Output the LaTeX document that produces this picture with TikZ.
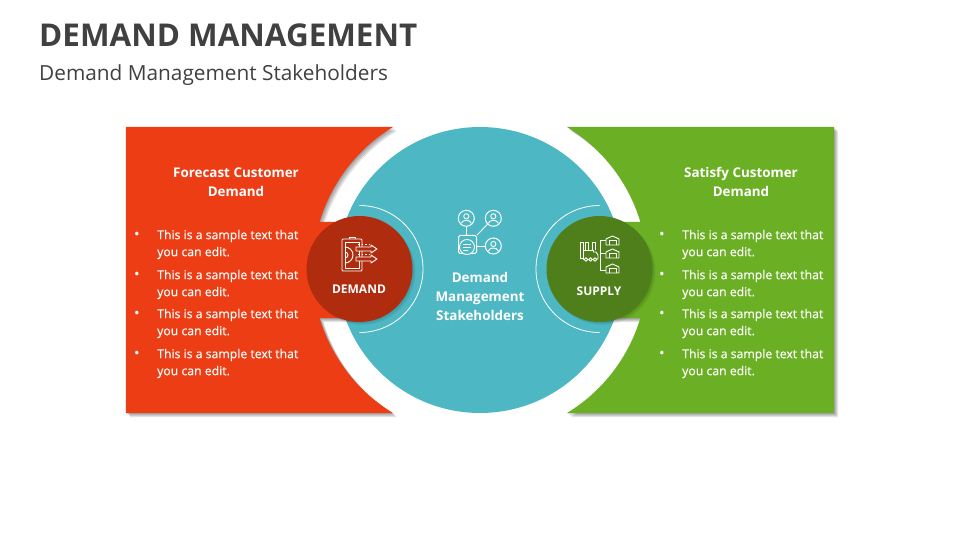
\documentclass[tikz,border=0pt]{standalone}
\usepackage{fontspec}
\setmainfont{Open Sans}
\definecolor{redpanel}{HTML}{EC3D14}
\definecolor{reddark}{HTML}{B02C0E}
\definecolor{tealhub}{HTML}{4DB8C3}
\definecolor{greenpanel}{HTML}{6BAF25}
\definecolor{greendark}{HTML}{4E7F1B}
\definecolor{titlegray}{HTML}{404040}
\newcommand{\panelpath}{(-354,143) -- (121.3:167.4) arc[start angle=121.3,end angle=163.3,radius=167.4] -- (-120,48) -- (-120,-48) -- (196.7:167.4) arc[start angle=196.7,end angle=238.7,radius=167.4] -- (-354,-143) -- cycle}
\newcommand{\fsize}[2]{\fontsize{#1}{#2}\selectfont}
\tikzset{
	badge/.style={circle,minimum size=106,inner sep=0,draw=none},
	headtext/.style={text=white,font=\fsize{13.4}{19}\bfseries,align=center},
	bodytext/.style={text=white,font=\fsize{12.25}{17}\addfontfeature{FakeBold=0.25},align=left,anchor=west,inner sep=0},
	dotmark/.style={text=white,font=\fsize{15}{17},inner sep=0},
	iconline/.style={white,line width=0.9,line join=round},
	person/.style={circle,draw=white,line width=1,minimum size=16,inner sep=0}
}
\begin{document}
\begin{tikzpicture}[x=1pt,y=1pt]
	\useasboundingbox (-480,-270) rectangle (480,270);
	\node[anchor=base west,inner sep=0,text=titlegray,font=\fsize{31.4}{36}\bfseries] (title) at (-441,223.5) {DEMAND MANAGEMENT};
	\node[anchor=base west,inner sep=0,text=titlegray,font=\fsize{20.8}{24}] (subtitle) at (-441,189) {Demand Management Stakeholders};
	% middle circle
	\node[circle,fill=tealhub,minimum size=286,inner sep=0] (hub) at (0,0) {};
	% shadows of the side panels, then the panels
	\foreach \s in {1,2,3,4} {
		\fill[black,opacity=0.10,xshift=\s,yshift=-\s] \panelpath;
		\fill[black,opacity=0.10,xshift=\s,yshift=-\s,xscale=-1] \panelpath;
	}
	\fill[redpanel] \panelpath;
	\fill[greenpanel,xscale=-1] \panelpath;
	% small circles
	\foreach \s in {1,2,3} {
		\fill[black,opacity=0.05] (-120.5+\s,1-\s) circle (53);
		\fill[black,opacity=0.05] (119.5+\s,1-\s) circle (53);
	}
	\node[badge,fill=reddark] (demand) at (-120.5,1) {};
	\node[badge,fill=greendark] (supply) at (119.5,1) {};
	\draw[white,line width=0.8] ([yshift=63.5]demand.center) arc[start angle=90,end angle=-90,radius=63.5];
	\draw[white,line width=0.8] ([yshift=63.5]supply.center) arc[start angle=90,end angle=270,radius=63.5];
	\node[text=white,font=\fsize{12}{14}\bfseries] (demandlabel) at (-121,-19.5) {DEMAND};
	\node[text=white,font=\fsize{12}{14}\bfseries] (supplylabel) at (119,-21.5) {SUPPLY};
	\node[headtext] (hublabel) at (0,-26) {Demand\\Management\\Stakeholders};
	\node[headtext] (lefthead) at (-244,87.5) {Forecast Customer\\Demand};
	\node[headtext] (righthead) at (261,88.5) {Satisfy Customer\\Demand};
	% bullets
	\foreach \y [count=\i] in {25.5,-14.5,-53.5,-93.5} {
		\node[bodytext] (leftitem\i) at (-323,\y) {This is a sample text that\\you can edit.};
		\node[dotmark] (leftdot\i) at (-343,\y+9) {•};
		\node[bodytext] (rightitem\i) at (202,\y) {This is a sample text that\\you can edit.};
		\node[dotmark] (rightdot\i) at (182,\y+9) {•};
	}
	% hub icon
	\node[person] (personA) at (-13.7,51.7) {};
	\node[person] (personB) at (13.3,51.7) {};
	\node[person] (personC) at (13.3,24) {};
	\node[draw=white,line width=1,minimum size=18,inner sep=0,rounded corners=1.5] (gearbox) at (-12.5,25.5) {};
	\draw[iconline] (personA) -- (personA |- gearbox.north);
	\draw[iconline] (personB) -- (gearbox.north east);
	\draw[iconline] (personC) -- (gearbox.east |- personC);
	\foreach \p in {personA,personB,personC} {
		\draw[iconline] ([yshift=2]\p.center) circle (2.6);
		\draw[iconline] ([shift={(-5,-5)}]\p.center) .. controls ([shift={(-4,-1)}]\p.center) and ([shift={(4,-1)}]\p.center) .. ([shift={(5,-5)}]\p.center);
	}
	\draw[iconline,fill=tealhub] (-13,23) circle (7.5);
	\draw[iconline] (-17,26) -- (-9,26) (-17,23) -- (-9,23) (-17,20) -- (-12,20);
	% demand icon
	\draw[iconline,rounded corners=1] (-138,31) rectangle (-118,-1);
	\draw[iconline] (-135,28) rectangle (-121,2);
	\draw[iconline] (-131,31) -- (-131,33) -- (-125,33) -- (-125,31);
	\draw[iconline] (-135,23) arc[start angle=90,end angle=-90,radius=8];
	\draw[iconline] (-135,18) arc[start angle=90,end angle=-90,radius=3];
	\foreach \y in {21,11} {
		\draw[iconline,fill=reddark] (-124,\y+2) -- (-109,\y+2) -- (-109,\y+4) -- (-103,\y) -- (-109,\y-4) -- (-109,\y-2) -- (-124,\y-2) -- cycle;
		\draw[white,line width=0.6,dash pattern=on 1.5 off 2] (-122,\y+5) -- (-110,\y+5);
	}
	% supply icon
	\foreach \x in {100,105.5,112} {
		\draw[iconline] (\x,20) -- (\x,28) -- (\x+3,28) -- (\x+3,20);
	}
	\draw[iconline] (100,20) -- (100,12) -- (103,12);
	\draw[iconline,fill=greendark] (103,20) rectangle (113,11);
	\draw[iconline,fill=greendark] (113,18) -- (116,18) -- (118,15) -- (118,11) -- (113,11);
	\draw[iconline,fill=greendark] (106,10.5) circle (1.8) (110.5,10.5) circle (1.8) (115,10.5) circle (1.8);
	\draw[iconline] (126,30) -- (120,30) -- (120,0) -- (126,0);
	\draw[iconline] (120,17) -- (126,17);
	\foreach \y in {25,12,-3} {
		\draw[iconline] (126,\y) -- (126,\y+6) -- (132.5,\y+9) -- (139,\y+6) -- (139,\y) -- cycle;
		\draw[iconline] (129,\y) -- (129,\y+4.5) -- (136,\y+4.5) -- (136,\y);
	}
\end{tikzpicture}
\end{document}
